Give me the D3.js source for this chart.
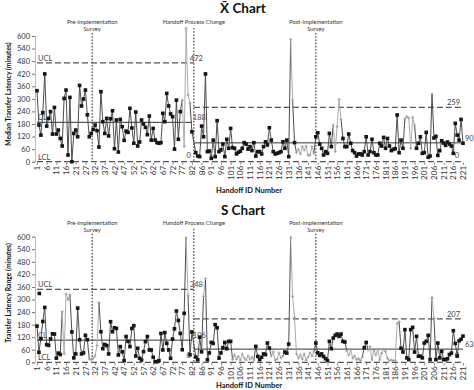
<!DOCTYPE html>
<html>
<head>
<meta charset="utf-8">
<script src="https://cdn.jsdelivr.net/npm/d3@7"></script>
<style>
  body { margin: 0; background: #fff; }
</style>
</head>
<body>
<div id="chart"></div>
<script>
// x axis tick labels (handoff ids), one every 5 positions
var tickLabels = ['1','6','11','16','21','27','32','37','42','47','52','57','62','67','72','77','82',
    '86','91','96','101','106','111','116','121','126','131','136','141','146','151','156','161',
    '166','171','176','181','186','191','196','201','206','211','216','221'];
var yTicks = [0, 60, 120, 180, 240, 300, 360, 420, 480, 540, 600];

// median latency, before / after the process change
var xbarPhase1 = [339,175,127,234,419,170,207,239,132,259,
    132,151,111,75,302,342,32,307,0,135,
    151,119,364,266,299,342,224,119,135,154,
    175,148,70,334,191,135,207,123,205,243,
    62,199,46,202,167,102,146,140,255,161,
    88,237,75,94,199,180,164,129,218,103,
    159,103,91,88,91,231,191,326,266,228,
    215,60,294,107,239,294,72,637,318,280,
    143];
var xbarPhase2 = [43,27,24,170,119,419,48,51,16,103,
    24,196,48,56,84,24,107,64,159,67,
    64,37,45,50,64,91,84,60,72,53,
    91,27,48,48,37,72,95,80,162,103,
    48,37,40,43,48,95,64,103,24,584,
    294,91,43,59,37,72,55,75,30,32,
    72,40,119,138,84,64,32,48,40,135,
    72,175,48,167,298,202,111,72,72,132,
    88,53,43,27,37,37,32,48,119,32,
    48,107,43,32,32,88,75,116,64,111,
    75,53,59,62,223,43,103,64,205,215,
    208,64,212,175,64,88,119,40,43,140,
    21,27,323,113,121,30,53,100,89,78,
    94,84,75,40,183,127,103,202,88];
// flagged (grey) points, as [first, last] positions
var xbarFlagged = [[75,79],[131,132],[134,143],[153,157],[190,195],[204,204]];

// latency range
var sPhase1 = [173,48,113,195,262,84,81,112,136,135,
    20,44,37,242,40,326,299,323,145,21,
    40,259,108,40,45,129,108,15,12,20,
    30,80,285,146,65,85,80,40,194,146,
    165,162,35,75,50,8,123,100,75,162,
    175,30,67,19,11,51,99,123,59,59,
    24,3,3,8,138,59,142,91,59,19,
    111,160,245,200,138,60,234,595,318,36,
    145];
var sPhase2 = [25,12,120,50,315,400,12,45,95,90,
    180,165,20,45,70,95,65,100,100,13,
    35,15,28,10,40,20,10,30,15,25,
    10,76,28,13,24,40,37,92,68,30,
    50,10,15,45,20,30,49,44,87,597,
    315,215,40,20,35,15,40,10,25,45,
    30,50,92,45,33,40,28,17,8,100,
    65,116,129,135,124,135,100,97,55,35,
    60,20,30,12,18,8,25,70,95,59,
    75,11,59,35,62,11,43,62,51,19,
    8,11,8,8,186,194,67,49,156,21,
    13,156,167,49,124,29,29,21,92,100,
    129,13,310,210,13,92,21,52,13,13,
    17,37,44,151,90,30,103,110,125];
var sFlagged = [[13,17],[27,32],[77,78],[86,87],[101,112],[121,127],[131,143],[160,168],[171,187],[204,205]];
// lone marker drawn near the start of the S chart: [position, value]
var sLoose = [[1.2, 329]];

// control limits per phase
var xbarLimits = [{from: 0, to: 81, ucl: 472, cl: 188, lcl: 0}, {from: 81, to: 220, ucl: 259, cl: 90, lcl: 0}];
var sLimits = [{from: 0, to: 81, ucl: 348, cl: 106, lcl: 0}, {from: 81, to: 220, ucl: 207, cl: 63, lcl: 0}];

var events = [
    {at: 28.5, text: ['Pre-implementation', 'Survey']},
    {at: 81, text: ['Handoff Process Change']},
    {at: 144, text: ['Post-implementation', 'Survey']}
];
var phaseStarts = [0, 82];

var FONT = "Lato, 'Open Sans', sans-serif";
var W = 474, H = 390;

var svg = d3.select('#chart').append('svg')
    .attr('width', W)
    .attr('height', H);

var x = d3.scaleLinear().domain([0, 220]).range([37, 463]);

function isFlagged(k, ranges) {
    for (var i = 0; i < ranges.length; i++) {
        if (k >= ranges[i][0] && k <= ranges[i][1]) return true;
    }
    return false;
}

function drawPanel(conf) {
    var y = d3.scaleLinear().domain([0, 600]).range([conf.bottom, conf.top]);
    var g = svg.append('g');

    // title
    g.append('text')
        .attr('x', 243)
        .attr('y', conf.titleY)
        .attr('text-anchor', 'middle')
        .attr('font-family', FONT)
        .attr('font-weight', 'bold')
        .attr('font-size', 13.5)
        .attr('fill', '#111')
        .text(conf.title);

    // y axis
    var ya = g.append('g')
        .attr('transform', 'translate(35,0)')
        .call(d3.axisLeft(y).tickValues(yTicks).tickSize(3).tickPadding(2));
    ya.select('.domain').attr('stroke', '#bbb');
    ya.selectAll('.tick line').attr('stroke', '#777');
    ya.selectAll('text')
        .attr('font-family', FONT)
        .attr('font-size', 7.5)
        .attr('fill', '#333');

    // x axis
    var xa = g.append('g')
        .attr('transform', 'translate(0,' + (conf.bottom + 1) + ')')
        .call(d3.axisBottom(x).tickValues(d3.range(0, 221, 5))
            .tickFormat(function (d, i) { return tickLabels[i]; })
            .tickSize(2));
    xa.select('.domain').remove();
    xa.selectAll('.tick line').attr('stroke', '#777');
    xa.selectAll('text')
        .attr('transform', 'rotate(-90)')
        .attr('x', -3)
        .attr('y', 0)
        .attr('dy', '0.32em')
        .attr('text-anchor', 'end')
        .attr('font-family', FONT)
        .attr('font-size', 8.2)
        .attr('fill', '#333');

    // axis titles
    g.append('text')
        .attr('x', 249)
        .attr('y', conf.xTitleY)
        .attr('text-anchor', 'middle')
        .attr('font-family', FONT)
        .attr('font-weight', 'bold')
        .attr('font-size', 7.5)
        .attr('fill', '#111')
        .text('Handoff ID Number');
    g.append('text')
        .attr('transform', 'translate(10.5,' + conf.yTitleMid + ')rotate(-90)')
        .attr('text-anchor', 'middle')
        .attr('font-family', FONT)
        .attr('font-weight', 'bold')
        .attr('font-size', 6.8)
        .attr('fill', '#111')
        .text(conf.yTitle);

    // event markers
    events.forEach(function (e) {
        var ex = x(e.at);
        g.append('line')
            .attr('x1', ex).attr('x2', ex)
            .attr('y1', conf.top - (e.text.length > 1 ? 3 : 8))
            .attr('y2', conf.bottom)
            .attr('stroke', '#333')
            .attr('stroke-width', 1.1)
            .attr('stroke-dasharray', '1.6,1.6');
        e.text.forEach(function (t, j) {
            g.append('text')
                .attr('x', ex)
                .attr('y', conf.top - 12 + j * 7)
                .attr('text-anchor', 'middle')
                .attr('font-family', FONT)
                .attr('font-size', 5.8)
                .attr('fill', '#333')
                .text(t);
        });
    });

    // control limits
    conf.limits.forEach(function (p, i) {
        [p.ucl, p.lcl].forEach(function (v) {
            g.append('line')
                .attr('x1', x(p.from)).attr('x2', x(p.to))
                .attr('y1', y(v)).attr('y2', y(v))
                .attr('stroke', '#555')
                .attr('stroke-width', 1.3)
                .attr('stroke-dasharray', '6,3');
        });
        g.append('line')
            .attr('x1', x(p.from)).attr('x2', x(p.to) - (i === 0 ? 2 : 0))
            .attr('y1', y(p.cl)).attr('y2', y(p.cl))
            .attr('stroke', '#333')
            .attr('stroke-width', 1);
    });

    var lab = function (tx, ty, t, anchor) {
        g.append('text')
            .attr('x', tx).attr('y', ty)
            .attr('text-anchor', anchor || 'start')
            .attr('font-family', FONT)
            .attr('font-size', 7.5)
            .attr('fill', '#444')
            .text(t);
    };
    var p1 = conf.limits[0], p2 = conf.limits[1];
    lab(x(0) + 1, y(p1.ucl) - 2, 'UCL');
    lab(x(0) + 1, y(p1.cl) - 2, 'CL');
    lab(x(0) + 1, y(p1.lcl) - 2, 'LCL');
    lab(x(p1.to) - 4, y(p1.ucl) - 2, String(p1.ucl));
    lab(x(p1.to) - 1, y(p1.cl) - 2, String(p1.cl));
    lab(x(p1.to) - 3, y(p1.lcl) - 4, String(p1.lcl), 'end');
    lab(x(p2.to) - 3, y(p2.ucl) - 2, String(p2.ucl), 'end');
    lab(x(p2.to) + 2, y(p2.cl) - 2, String(p2.cl));
    lab(x(p2.to) - 4, y(p2.lcl) - 4, String(p2.lcl), 'end');

    // data
    var pts = [];
    conf.phases.forEach(function (vals, pi) {
        vals.forEach(function (v, j) {
            var k = phaseStarts[pi] + j;
            pts.push({k: k, v: v, flag: isFlagged(k, conf.flagged)});
        });
    });

    var segs = d3.pairs(pts);
    g.append('g').selectAll('line')
        .data(segs)
        .enter().append('line')
        .attr('x1', function (d) { return x(d[0].k); })
        .attr('y1', function (d) { return y(d[0].v); })
        .attr('x2', function (d) { return x(d[1].k); })
        .attr('y2', function (d) { return y(d[1].v); })
        .attr('stroke', function (d) { return d[0].flag && d[1].flag ? '#a6a6a6' : '#444'; })
        .attr('stroke-width', 0.95);

    var solid = pts.filter(function (d) { return !d.flag; });
    (conf.loose || []).forEach(function (d) { solid.push({k: d[0], v: d[1]}); });
    g.append('g').selectAll('rect')
        .data(solid)
        .enter().append('rect')
        .attr('x', function (d) { return x(d.k) - 1.8; })
        .attr('y', function (d) { return y(d.v) - 1.8; })
        .attr('width', 3.6)
        .attr('height', 3.6)
        .attr('fill', '#151515');

    g.append('g').selectAll('path')
        .data(pts.filter(function (d) { return d.flag; }))
        .enter().append('path')
        .attr('d', function (d) {
            var px = x(d.k), py = y(d.v);
            return 'M' + (px - 1.5) + ',' + py + 'H' + (px + 1.5) + 'M' + px + ',' + (py - 1.5) + 'V' + (py + 1.5);
        })
        .attr('stroke', '#999')
        .attr('stroke-width', 0.8);
}

drawPanel({
    title: 'X\u0304 Chart',
    titleY: 13,
    top: 36,
    bottom: 161.7,
    xTitleY: 192.5,
    yTitle: 'Median Transfer Latency (minutes)',
    yTitleMid: 94,
    limits: xbarLimits,
    phases: [xbarPhase1, xbarPhase2],
    flagged: xbarFlagged
});

drawPanel({
    title: 'S Chart',
    titleY: 215,
    top: 236.7,
    bottom: 362.3,
    xTitleY: 388,
    yTitle: 'Transfer Latency Range (minutes)',
    yTitleMid: 293,
    limits: sLimits,
    phases: [sPhase1, sPhase2],
    flagged: sFlagged,
    loose: sLoose
});
</script>
</body>
</html>
